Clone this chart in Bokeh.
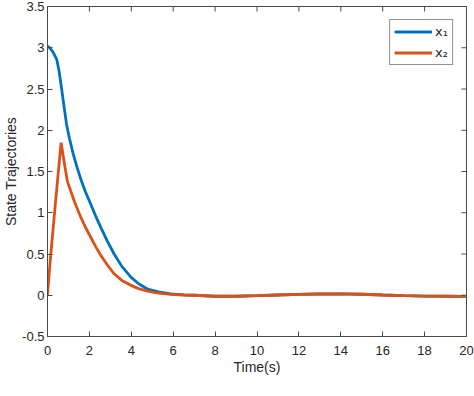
import math
from bokeh.plotting import figure
from bokeh.models import Range1d, FixedTicker, Legend, LegendItem
from bokeh.embed import file_html
from bokeh.resources import INLINE

# ---- data ----
t1 = [0.0, 0.1, 0.2, 0.3, 0.44, 0.55, 0.67, 0.8, 0.91, 1.05, 1.23, 1.4, 1.6, 1.8, 2.07, 2.3,
      2.55, 2.85, 3.18, 3.55, 3.98, 4.35, 4.77, 5.3, 5.88, 6.5,
      7.0, 8.0, 9.0, 10.0, 11.0, 12.0, 13.0, 14.0, 15.0, 16.0, 17.0, 18.0, 19.0, 20.0]
x1 = [3.02, 3.0, 2.97, 2.93, 2.86, 2.72, 2.51, 2.27, 2.07, 1.90, 1.71, 1.56, 1.40, 1.26, 1.10, 0.96,
      0.82, 0.66, 0.50, 0.35, 0.22, 0.14, 0.076, 0.04, 0.016, 0.005,
      0.0, -0.012, -0.012, -0.005, 0.003, 0.010, 0.015, 0.017, 0.012, 0.003, -0.005, -0.010, -0.012, -0.014]

t2 = [0.0, 0.13, 0.33, 0.5, 0.65, 0.8, 0.95, 1.1, 1.28, 1.45, 1.6, 1.8, 2.07, 2.3, 2.55, 2.85,
      3.18, 3.55, 3.98, 4.35, 4.77, 5.3, 5.88, 6.5,
      7.0, 8.0, 9.0, 10.0, 11.0, 12.0, 13.0, 14.0, 15.0, 16.0, 17.0, 18.0, 19.0, 20.0]
x2 = [0.0, 0.42, 0.98, 1.45, 1.85, 1.61, 1.38, 1.27, 1.14, 1.03, 0.94, 0.83, 0.70, 0.59, 0.48, 0.37,
      0.26, 0.18, 0.12, 0.08, 0.05, 0.025, 0.01, 0.003,
      0.0, -0.012, -0.012, -0.005, 0.003, 0.010, 0.015, 0.017, 0.012, 0.003, -0.005, -0.010, -0.012, -0.014]

x_ticks = [0, 2, 4, 6, 8, 10, 12, 14, 16, 18, 20]
y_ticks = [-0.5, 0, 0.5, 1, 1.5, 2, 2.5, 3, 3.5]
labels = ["x\u2081", "x\u2082"]
colors = ["#0072BD", "#D95319"]

AX = "#4a4a4a"
TXT = "#262626"
FONT = "Liberation Sans"

p = figure(width=474, height=396, output_backend="svg", toolbar_location=None,
           x_range=Range1d(x_ticks[0], x_ticks[-1]), y_range=Range1d(y_ticks[0], y_ticks[-1]),
           min_border_left=0, min_border_right=8, min_border_top=6, min_border_bottom=60)
p.grid.visible = False
p.outline_line_color = AX
p.background_fill_color = "white"
p.border_fill_color = "white"

r1 = p.line(t1, x1, line_color=colors[0], line_width=2.8)
r2 = p.line(t2, x2, line_color=colors[1], line_width=2.8)

# inward ticks on the top and right edges (MATLAB box style); half of each dash is clipped by the frame
p.scatter(x=x_ticks, y=[y_ticks[-1]] * len(x_ticks), marker="dash", size=10, angle=math.pi / 2,
          line_color=AX, line_width=1)
p.scatter(x=[x_ticks[-1]] * len(y_ticks), y=y_ticks, marker="dash", size=10,
          line_color=AX, line_width=1)

xa = p.xaxis[0]
ya = p.yaxis[0]
xa.ticker = FixedTicker(ticks=x_ticks)
ya.ticker = FixedTicker(ticks=y_ticks)
for ax in (xa, ya):
    ax.major_tick_in = 5
    ax.major_tick_out = 0
    ax.minor_tick_line_color = None
    ax.axis_line_color = AX
    ax.major_tick_line_color = AX
    ax.major_label_text_font = FONT
    ax.major_label_text_font_size = "13px"
    ax.major_label_text_color = TXT
    ax.axis_label_text_font = FONT
    ax.axis_label_text_font_size = "14px"
    ax.axis_label_text_font_style = "normal"
    ax.axis_label_text_color = TXT
xa.axis_label = "Time(s)"
ya.axis_label = "State Trajectories"
xa.major_label_standoff = 9
xa.axis_label_standoff = 1
ya.major_label_standoff = 3
ya.axis_label_standoff = 0
ya.major_label_overrides = {-0.5: "-0.5", 0: "0", 1: "1", 2: "2", 3: "3"}

legend = Legend(items=[LegendItem(label=labels[0], renderers=[r1]),
                       LegendItem(label=labels[1], renderers=[r2])],
                location="top_right", margin=13,
                border_line_color=TXT, border_line_width=1,
                background_fill_color="white", background_fill_alpha=1,
                label_text_font="DejaVu Sans", label_text_font_size="13px", label_text_color=TXT,
                glyph_width=38, glyph_height=15, label_height=15, label_width=0,
                label_standoff=3, spacing=6, padding=4)
p.add_layout(legend)

open("out.html", "w").write(file_html(p, INLINE))
